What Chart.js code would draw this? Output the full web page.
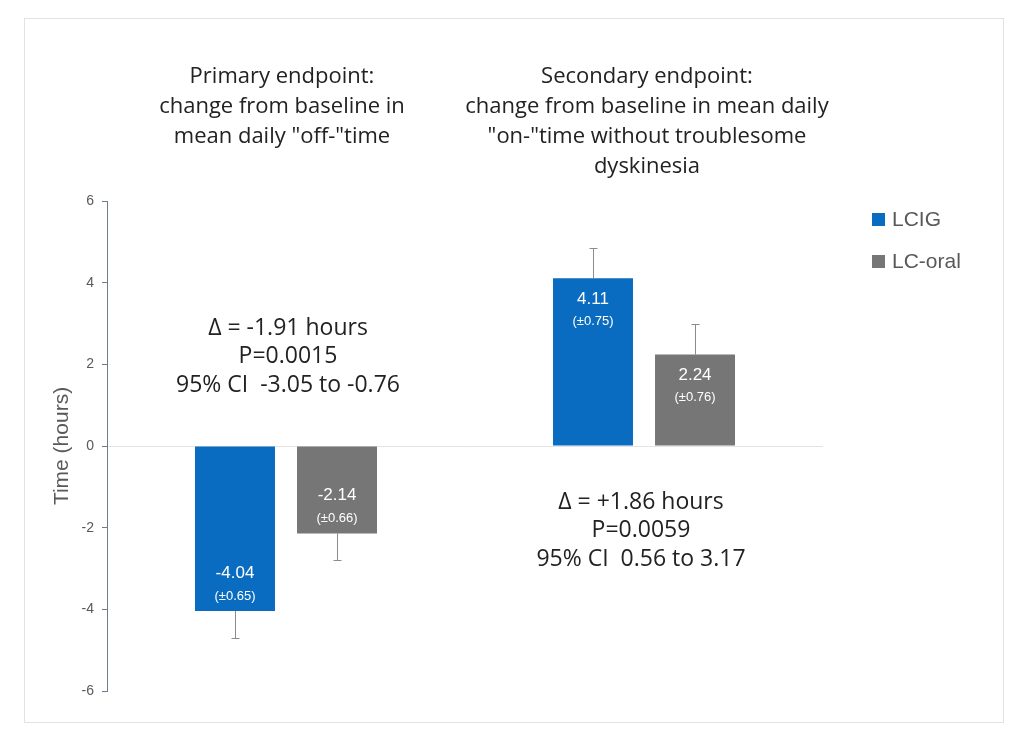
<!DOCTYPE html>
<html>
<head>
<meta charset="utf-8">
<script src="https://cdn.jsdelivr.net/npm/chart.js@4/dist/chart.umd.min.js"></script>
<style>
    html, body { margin: 0; padding: 0; background: #fff; }
    #wrap { position: relative; width: 1024px; height: 740px; }
    #frame { position: absolute; left: 24px; top: 18px; width: 978px; height: 703px; border: 1px solid #e2e2e2; }
    #chart { position: absolute; left: 0; top: 0; }
</style>
</head>
<body>
<div id="wrap">
    <div id="frame"></div>
    <canvas id="chart" width="1024" height="740"></canvas>
</div>
<script>
// ── Data ────────────────────────────────────────────────────────────────
var categories  = ['Primary endpoint', 'Secondary endpoint'];
var seriesNames = ['LCIG', 'LC-oral'];
var lcigValues  = [-4.04, 4.11];
var lcigErrors  = [0.65, 0.75];
var oralValues  = [-2.14, 2.24];
var oralErrors  = [0.66, 0.76];
var yTicks      = [-6, -4, -2, 0, 2, 4, 6];

var panelTitles = [
    ['Primary endpoint:', 'change from baseline in', 'mean daily "off-"time'],
    ['Secondary endpoint:', 'change from baseline in mean daily', '"on-"time without troublesome', 'dyskinesia']
];
var panelNotes = [
    ['Δ = -1.91 hours', 'P=0.0015', '95% CI  -3.05 to -0.76'],
    ['Δ = +1.86 hours', 'P=0.0059', '95% CI  0.56 to 3.17']
];

(function () {
    'use strict';

    var BLUE = '#0a6cc0';
    var GREY = '#767676';
    var AXIS = '#6e7d8a';
    var TXT  = '#595959';
    var SANS = "'Liberation Sans', Arial, sans-serif";
    var OPEN = "'Open Sans', 'Noto Sans', sans-serif";

    // ── Error bars (one-sided, away from zero) ─────────────────────────────
    var errorBars = {
        id: 'errorBars',
        afterDatasetsDraw: function (chart) {
            var ctx = chart.ctx;
            var y = chart.scales.y;
            ctx.save();
            ctx.strokeStyle = '#8c8c8c';
            ctx.lineWidth = 1;
            chart.data.datasets.forEach(function (ds, di) {
                var meta = chart.getDatasetMeta(di);
                meta.data.forEach(function (bar, i) {
                    var v = ds.data[i];
                    var e = ds.errors[i];
                    var tip = v < 0 ? v - e : v + e;
                    var x = Math.round(bar.x) + 0.5;
                    var y0 = y.getPixelForValue(v);
                    var y1 = Math.round(y.getPixelForValue(tip)) + 0.5;
                    ctx.beginPath();
                    ctx.moveTo(x, y0);
                    ctx.lineTo(x, y1);
                    ctx.moveTo(x - 4, y1);
                    ctx.lineTo(x + 4, y1);
                    ctx.stroke();
                });
            });
            ctx.restore();
        }
    };

    // ── White value labels inside bars ─────────────────────────────────────
    var barLabels = {
        id: 'barLabels',
        afterDatasetsDraw: function (chart) {
            var ctx = chart.ctx;
            ctx.save();
            ctx.fillStyle = '#fff';
            ctx.textAlign = 'center';
            ctx.textBaseline = 'middle';
            chart.data.datasets.forEach(function (ds, di) {
                var meta = chart.getDatasetMeta(di);
                meta.data.forEach(function (bar, i) {
                    var v = ds.data[i];
                    var end = bar.y;
                    var y1 = v < 0 ? end - 38 : end + 21;
                    var y2 = v < 0 ? end - 15 : end + 43;
                    ctx.font = '17px ' + SANS;
                    ctx.fillText(v.toFixed(2), bar.x, y1);
                    ctx.font = '13px ' + SANS;
                    ctx.fillText('(±' + ds.errors[i].toFixed(2) + ')', bar.x, y2);
                });
            });
            ctx.restore();
        }
    };

    // ── Panel headings, delta notes and legend ─────────────────────────────
    var panelText = {
        id: 'panelText',
        afterDraw: function (chart) {
            var ctx = chart.ctx;
            var x = chart.scales.x;
            ctx.save();
            ctx.textAlign = 'center';
            ctx.textBaseline = 'middle';
            ctx.fillStyle = '#222';

            var titleShift = [-4, 3];
            var noteShift  = [2, -3];
            var noteTop    = [328, 502];
            categories.forEach(function (c, i) {
                var cx = x.getPixelForValue(i);
                ctx.font = '22px ' + OPEN;
                panelTitles[i].forEach(function (line, k) {
                    ctx.fillText(line, cx + titleShift[i], 77 + k * 30);
                });
                ctx.font = '23px ' + OPEN;
                panelNotes[i].forEach(function (line, k) {
                    ctx.fillText(line, cx + noteShift[i], noteTop[i] + k * 28.5);
                });
            });

            // legend
            ctx.textAlign = 'left';
            ctx.font = '21px ' + SANS;
            chart.data.datasets.forEach(function (ds, di) {
                var ly = 219 + di * 42;
                ctx.fillStyle = ds.backgroundColor;
                ctx.fillRect(872, ly - 6, 13, 13);
                ctx.fillStyle = TXT;
                ctx.fillText(ds.label, 892, ly + 1);
            });
            ctx.restore();
        }
    };

    new Chart(document.getElementById('chart'), {
        type: 'bar',
        data: {
            labels: categories,
            datasets: [
                { label: seriesNames[0], data: lcigValues, errors: lcigErrors, backgroundColor: BLUE },
                { label: seriesNames[1], data: oralValues, errors: oralErrors, backgroundColor: GREY }
            ]
        },
        options: {
            responsive: false,
            animation: false,
            categoryPercentage: 0.57,
            barPercentage: 0.784,
            layout: { padding: { left: 50, top: 201, right: 201, bottom: 49 } },
            plugins: {
                legend: { display: false },
                tooltip: { enabled: false }
            },
            scales: {
                x: { display: false },
                y: {
                    min: yTicks[0],
                    max: yTicks[yTicks.length - 1],
                    afterFit: function (s) { s.width = 57; },
                    afterBuildTicks: function (s) {
                        s.ticks = yTicks.map(function (v) { return { value: v }; });
                    },
                    border: { color: AXIS, width: 1 },
                    grid: {
                        color: function (c) { return c.tick && c.tick.value === 0 ? '#e4e4e4' : 'rgba(0,0,0,0)'; },
                        tickColor: AXIS,
                        tickLength: 5,
                        lineWidth: 1
                    },
                    ticks: {
                        color: TXT,
                        padding: 8,
                        font: { family: SANS, size: 14 }
                    },
                    title: {
                        display: true,
                        text: 'Time (hours)',
                        color: TXT,
                        font: { family: SANS, size: 21 },
                        padding: { top: 0, bottom: 0 }
                    }
                }
            }
        },
        plugins: [errorBars, barLabels, panelText]
    });
})();
</script>
</body>
</html>
